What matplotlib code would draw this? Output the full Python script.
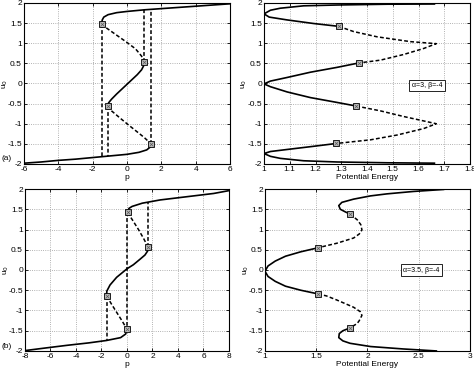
import numpy as np
import matplotlib
matplotlib.use('Agg')
from matplotlib import pyplot as plt

plt.rcParams['font.family'] = ['Liberation Sans', 'DejaVu Sans']
plt.rcParams['font.size'] = 6

# ---------------- (a) alpha=3, beta=-4 : p vs u0 ----------------
a_up_p = [-1.48, -1.44, -1.35, -1.1, -0.6, 0, 1, 2, 3, 4, 5, 6]
a_up_u = [1.48, 1.58, 1.65, 1.71, 1.76, 1.79, 1.83, 1.86, 1.89, 1.92, 1.95, 1.98]
a_mid_p = [0.99, 0.97, 0.85, 0.6, 0.3, 0, -0.3, -0.6, -0.9, -1.07, -1.13]
a_mid_u = [0.53, 0.44, 0.34, 0.22, 0.1, -0.02, -0.14, -0.26, -0.39, -0.48, -0.56]
a_low_p = [1.40, 1.35, 1.15, 0.7, 0, -1, -2, -3, -4, -5, -6]
a_low_u = [-1.50, -1.58, -1.65, -1.71, -1.76, -1.80, -1.84, -1.88, -1.91, -1.95, -1.98]
a_dash1_p = [-1.48, -1.2, -0.6, 0, 0.5, 0.85, 0.99]
a_dash1_u = [1.48, 1.38, 1.2, 1.02, 0.86, 0.68, 0.53]
a_dash2_p = [-1.13, -0.9, -0.4, 0, 0.5, 1.0, 1.40]
a_dash2_u = [-0.56, -0.68, -0.86, -1.0, -1.17, -1.34, -1.50]
# vertical jump lines: p, u_from, u_to
a_jump_p = [-1.48, -1.13, 0.99, 1.40]
a_jump_u0 = [1.48, -0.56, 0.53, -1.50]
a_jump_u1 = [-1.80, -1.80, 1.82, 1.84]
a_mark_p = [-1.48, 0.99, -1.13, 1.40]
a_mark_u = [1.48, 0.53, -0.56, -1.50]

# ---------------- (a) potential energy vs u0 ----------------
ea_top_e = [1.665, 1.48, 1.283, 1.154, 1.063, 1.025, 1.0, 1.02, 1.089, 1.193, 1.29]
ea_top_u = [1.975, 1.97, 1.95, 1.93, 1.87, 1.82, 1.73, 1.65, 1.58, 1.49, 1.42]
ea_dash1_e = [1.29, 1.348, 1.439, 1.568, 1.669, 1.62, 1.542, 1.452, 1.368]
ea_dash1_u = [1.42, 1.29, 1.16, 1.04, 0.99, 0.87, 0.72, 0.58, 0.51]
ea_mid_e = [1.368, 1.283, 1.18, 1.09, 1.025, 1.0, 1.025, 1.09, 1.18, 1.283, 1.358]
ea_mid_u = [0.51, 0.40, 0.28, 0.15, 0.06, -0.01, -0.08, -0.21, -0.35, -0.47, -0.56]
ea_dash2_e = [1.358, 1.452, 1.542, 1.62, 1.669, 1.62, 1.517, 1.413, 1.281]
ea_dash2_u = [-0.56, -0.68, -0.82, -0.93, -1.0, -1.12, -1.28, -1.40, -1.49]
ea_low_e = [1.281, 1.193, 1.089, 1.025, 1.0, 1.025, 1.063, 1.154, 1.283, 1.48, 1.665]
ea_low_u = [-1.49, -1.56, -1.64, -1.69, -1.74, -1.81, -1.86, -1.92, -1.95, -1.97, -1.98]
ea_mark_e = [1.29, 1.368, 1.358, 1.281]
ea_mark_u = [1.42, 0.51, -0.56, -1.49]

# ---------------- (b) alpha=3.5, beta=-4 : p vs u0 ----------------
b_up_p = [0.05, 0.15, 0.4, 1.2, 2.6, 4.7, 6.8, 8]
b_up_u = [1.42, 1.52, 1.57, 1.65, 1.73, 1.81, 1.89, 1.96]
b_mid_p = [1.65, 1.62, 1.41, 1.0, 0.5, 0, -0.5, -0.81, -1.33, -1.58, -1.6]
b_mid_u = [0.57, 0.47, 0.37, 0.26, 0.13, 0.03, -0.1, -0.18, -0.37, -0.52, -0.64]
b_low_p = [0, -0.1, -0.5, -1.6, -3, -4.7, -6.5, -8]
b_low_u = [-1.46, -1.58, -1.67, -1.74, -1.80, -1.86, -1.93, -1.99]
b_dash1_p = [0.05, 0.5, 0.9, 1.3, 1.65]
b_dash1_u = [1.42, 1.2, 1.0, 0.78, 0.57]
b_dash2_p = [-1.6, -1.2, -0.8, -0.4, 0]
b_dash2_u = [-0.64, -0.85, -1.05, -1.25, -1.46]
b_jump_p = [0.0, 1.65, -1.6]
b_jump_u0 = [1.42, 0.57, -0.64]
b_jump_u1 = [-1.46, 1.69, -1.74]
b_mark_p = [0.05, 1.65, -1.6, 0.0]
b_mark_u = [1.42, 0.57, -0.64, -1.46]

# ---------------- (b) potential energy vs u0 ----------------
eb_top_e = [2.75, 2.45, 2.19, 2.03, 1.865, 1.75, 1.72, 1.735, 1.78, 1.83]
eb_top_u = [1.99, 1.94, 1.88, 1.83, 1.75, 1.67, 1.59, 1.50, 1.44, 1.38]
eb_dash1_e = [1.83, 1.9, 1.935, 1.946, 1.92, 1.865, 1.70, 1.6, 1.52]
eb_dash1_u = [1.38, 1.24, 1.12, 0.99, 0.89, 0.79, 0.66, 0.6, 0.55]
eb_mid_e = [1.52, 1.35, 1.2, 1.1, 1.03, 1.0, 1.03, 1.1, 1.2, 1.35, 1.517]
eb_mid_u = [0.55, 0.45, 0.34, 0.22, 0.1, -0.03, -0.16, -0.28, -0.4, -0.5, -0.59]
eb_dash2_e = [1.517, 1.6, 1.70, 1.865, 1.93, 1.946, 1.92, 1.9, 1.83]
eb_dash2_u = [-0.59, -0.64, -0.74, -0.92, -1.03, -1.12, -1.25, -1.32, -1.43]
eb_low_e = [1.83, 1.76, 1.725, 1.72, 1.76, 1.83, 2.03, 2.35, 2.68]
eb_low_u = [-1.43, -1.50, -1.57, -1.67, -1.75, -1.81, -1.89, -1.95, -2.0]
eb_mark_e = [1.83, 1.52, 1.517, 1.83]
eb_mark_u = [1.38, 0.55, -0.59, -1.43]

fig = plt.figure(figsize=(4.74, 3.79), dpi=100)
ax_tl = fig.add_axes([0.0506, 0.5673, 0.4346, 0.4248])
ax_tr = fig.add_axes([0.557, 0.5673, 0.4346, 0.4248])
ax_bl = fig.add_axes([0.0527, 0.0739, 0.4304, 0.4274])
ax_br = fig.add_axes([0.559, 0.0739, 0.4325, 0.4274])

solid = dict(color='k', lw=1.2, solid_capstyle='butt')
dash = dict(color='k', lw=1.1, ls=(0, (2.5, 1.5)))


def draw_marks(ax, xs, ys):
    ax.plot(xs, ys, ls='none', marker='s', ms=4.6, mfc='#bdbdbd', mec='k', mew=0.6, zorder=5)
    ax.plot(xs, ys, ls='none', marker='x', ms=3.0, mec='#5a5a5a', mew=0.5, zorder=6)


def style(ax, xlim, xticks, xlabel, ylab_x):
    ax.set_xlim(xlim)
    ax.set_ylim(-2, 2)
    ax.set_xticks(xticks)
    ax.set_xticklabels(['%g' % t for t in xticks])
    yt = np.arange(-2, 2.01, 0.5)
    ax.set_yticks(yt)
    ax.set_yticklabels(['%g' % t for t in yt])
    ax.grid(True, ls=':', color='#999999', lw=0.6)
    ax.tick_params(direction='in', length=2, width=0.6, top=True, right=True, pad=1.5, labelsize=6)
    for s in ax.spines.values():
        s.set_linewidth(0.8)
    ax.set_xlabel(xlabel, labelpad=0.5, fontsize=6)
    ax.set_ylabel('u$_0$', fontsize=6)
    ax.yaxis.set_label_coords(ylab_x, 0.5)


# (a) p vs u0
ax = ax_tl
ax.plot(a_up_p, a_up_u, **solid)
ax.plot(a_mid_p, a_mid_u, **solid)
ax.plot(a_low_p, a_low_u, **solid)
ax.plot(a_dash1_p, a_dash1_u, **dash)
ax.plot(a_dash2_p, a_dash2_u, **dash)
for p, u0, u1 in zip(a_jump_p, a_jump_u0, a_jump_u1):
    ax.plot([p, p], [u0, u1], **dash)
draw_marks(ax, a_mark_p, a_mark_u)
style(ax, (-6, 6), np.arange(-6, 6.1, 2), 'p', -0.068)

# (a) energy
ax = ax_tr
ax.plot(ea_top_e, ea_top_u, **solid)
ax.plot(ea_mid_e, ea_mid_u, **solid)
ax.plot(ea_low_e, ea_low_u, **solid)
ax.plot(ea_dash1_e, ea_dash1_u, **dash)
ax.plot(ea_dash2_e, ea_dash2_u, **dash)
draw_marks(ax, ea_mark_e, ea_mark_u)
style(ax, (1, 1.8), np.round(np.arange(1, 1.81, 0.1), 1), 'Potential Energy', -0.073)
ax.text(1.633, -0.05, 'α=3, β=-4', fontsize=5, ha='center', va='center',
        bbox=dict(boxstyle='square,pad=0.35', fc='white', ec='k', lw=0.6), zorder=7)

# (b) p vs u0
ax = ax_bl
ax.plot(b_up_p, b_up_u, **solid)
ax.plot(b_mid_p, b_mid_u, **solid)
ax.plot(b_low_p, b_low_u, **solid)
ax.plot(b_dash1_p, b_dash1_u, **dash)
ax.plot(b_dash2_p, b_dash2_u, **dash)
for p, u0, u1 in zip(b_jump_p, b_jump_u0, b_jump_u1):
    ax.plot([p, p], [u0, u1], **dash)
draw_marks(ax, b_mark_p, b_mark_u)
style(ax, (-8, 8), np.arange(-8, 8.1, 2), 'p', -0.07)

# (b) energy
ax = ax_br
ax.plot(eb_top_e, eb_top_u, **solid)
ax.plot(eb_mid_e, eb_mid_u, **solid)
ax.plot(eb_low_e, eb_low_u, **solid)
ax.plot(eb_dash1_e, eb_dash1_u, **dash)
ax.plot(eb_dash2_e, eb_dash2_u, **dash)
draw_marks(ax, eb_mark_e, eb_mark_u)
style(ax, (1, 3), np.arange(1, 3.01, 0.5), 'Potential Energy', -0.07)
ax.text(2.527, -0.01, 'α=3.5, β=-4', fontsize=5, ha='center', va='center',
        bbox=dict(boxstyle='square,pad=0.35', fc='white', ec='k', lw=0.6), zorder=7)

fig.text(1, 379 - 160, '(a)', fontsize=6, transform=None)
fig.text(1, 379 - 348, '(b)', fontsize=6, transform=None)

fig.savefig('out.png', dpi=100)
